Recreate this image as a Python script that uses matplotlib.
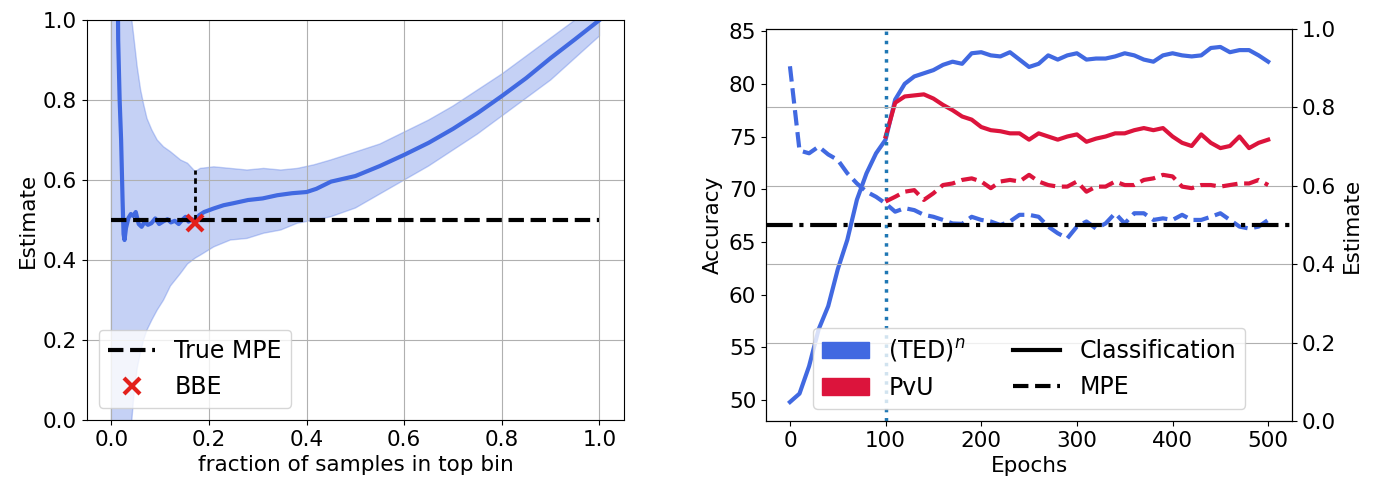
import matplotlib
matplotlib.use("Agg")
import matplotlib.pyplot as plt
import numpy as np
from matplotlib.patches import Patch
from matplotlib.lines import Line2D

# ---- pannello sinistro: stima al variare della frazione nel top bin ----
line_x = [0.010, 0.014, 0.017, 0.020, 0.023, 0.025, 0.027, 0.030, 0.035, 0.040,
          0.045, 0.050, 0.056, 0.062, 0.068, 0.075, 0.082, 0.090, 0.098, 0.107,
          0.115, 0.122, 0.130, 0.138, 0.145, 0.152, 0.158, 0.165, 0.172, 0.180,
          0.190, 0.210, 0.230, 0.250, 0.280, 0.310, 0.340, 0.370, 0.400, 0.420,
          0.450, 0.500, 0.550, 0.600, 0.650, 0.700, 0.750, 0.800, 0.850, 0.900,
          0.950, 1.000]
line_y = [1.600, 0.950, 0.800, 0.700, 0.550, 0.465, 0.450, 0.480, 0.505, 0.515,
          0.510, 0.520, 0.490, 0.483, 0.495, 0.488, 0.492, 0.504, 0.490, 0.497,
          0.502, 0.494, 0.498, 0.490, 0.500, 0.508, 0.496, 0.502, 0.498, 0.512,
          0.520, 0.529, 0.537, 0.542, 0.550, 0.554, 0.562, 0.567, 0.570, 0.578,
          0.596, 0.610, 0.635, 0.663, 0.693, 0.728, 0.767, 0.810, 0.855, 0.905,
          0.952, 1.000]

band_x = [0.000, 0.020, 0.042, 0.046, 0.053, 0.060, 0.066, 0.073, 0.083, 0.094,
          0.107, 0.121, 0.142, 0.156, 0.172, 0.182, 0.210, 0.244, 0.278, 0.312,
          0.347, 0.381, 0.415, 0.449, 0.500, 0.550, 0.600, 0.650, 0.700, 0.750,
          0.800, 0.850, 0.900, 0.950, 1.000]
band_hi = [3.000, 2.000, 1.000, 0.958, 0.883, 0.825, 0.790, 0.754, 0.725, 0.700,
           0.683, 0.671, 0.650, 0.642, 0.621, 0.629, 0.633, 0.629, 0.625, 0.629,
           0.625, 0.629, 0.638, 0.650, 0.670, 0.690, 0.720, 0.750, 0.785, 0.825,
           0.865, 0.910, 0.955, 1.000, 1.045]
band_lo = [-2.000, -1.000, 0.000, 0.060, 0.130, 0.170, 0.200, 0.225, 0.250, 0.275,
           0.300, 0.335, 0.367, 0.390, 0.405, 0.412, 0.433, 0.450, 0.454, 0.467,
           0.475, 0.492, 0.500, 0.508, 0.530, 0.565, 0.600, 0.635, 0.675, 0.715,
           0.760, 0.805, 0.850, 0.905, 0.960]

true_mpe = 0.5
bbe_x = 0.172
bbe_y = 0.493
bbe_top = 0.625

# ---- pannello destro: accuratezza e stima MPE durante il training ----
epochs = [0, 10, 20, 30, 40, 50, 60, 70, 80, 90, 100, 110, 120, 130, 140, 150,
          160, 170, 180, 190, 200, 210, 220, 230, 240, 250, 260, 270, 280, 290,
          300, 310, 320, 330, 340, 350, 360, 370, 380, 390, 400, 410, 420, 430,
          440, 450, 460, 470, 480, 490, 500]
ted_acc = [49.8, 50.6, 53.2, 56.7, 58.9, 62.4, 65.2, 69.0, 71.5, 73.4, 74.7,
           78.5, 80.0, 80.7, 81.0, 81.3, 81.8, 82.1, 81.9, 82.9, 83.0, 82.7,
           82.6, 83.0, 82.3, 81.6, 81.9, 82.7, 82.3, 82.7, 82.9, 82.3, 82.4,
           82.4, 82.6, 82.9, 82.7, 82.3, 82.1, 82.7, 82.9, 82.7, 82.6, 82.7,
           83.4, 83.5, 83.0, 83.2, 83.2, 82.7, 82.1]
ted_mpe = [0.905, 0.69, 0.683, 0.70, 0.68, 0.666, 0.632, 0.606, 0.585, 0.572,
           0.555, 0.534, 0.543, 0.538, 0.526, 0.521, 0.513, 0.504, 0.503, 0.521,
           0.513, 0.509, 0.500, 0.509, 0.526, 0.526, 0.521, 0.496, 0.479, 0.466,
           0.496, 0.509, 0.491, 0.504, 0.530, 0.504, 0.530, 0.530, 0.513, 0.517,
           0.513, 0.526, 0.513, 0.513, 0.521, 0.530, 0.513, 0.496, 0.491, 0.496,
           0.513]

pvu_epochs = epochs[10:]
pvu_acc = [75.0, 78.2, 78.8, 78.9, 79.0, 78.6, 78.0, 77.5, 76.9, 76.6, 75.9,
           75.6, 75.5, 75.3, 75.3, 74.7, 75.3, 75.0, 74.7, 75.0, 75.2, 74.5,
           74.8, 75.0, 75.3, 75.3, 75.6, 75.8, 75.6, 75.8, 75.0, 74.4, 74.1,
           75.2, 74.4, 73.9, 74.1, 75.0, 73.9, 74.4, 74.7]
pvu_mpe = [0.560, 0.572, 0.585, 0.589, 0.564, 0.581, 0.602, 0.606, 0.615, 0.619,
           0.611, 0.594, 0.611, 0.615, 0.611, 0.628, 0.611, 0.602, 0.598, 0.598,
           0.611, 0.585, 0.598, 0.598, 0.611, 0.602, 0.602, 0.615, 0.619, 0.628,
           0.624, 0.598, 0.594, 0.602, 0.602, 0.598, 0.602, 0.606, 0.606, 0.615,
           0.602]

switch_epoch = 100

blu = 'royalblue'
rosso = 'crimson'
fs = 15.5

fig = plt.figure(figsize=(13.8, 4.92), dpi=100)

# pannello sinistro
ax1 = fig.add_axes([0.0630, 0.1463, 0.3891, 0.8130])
ax1.fill_between(band_x, band_lo, band_hi, color=blu, alpha=0.3)
ax1.plot(line_x, line_y, color=blu, lw=3)
ax1.plot([0, 1], [true_mpe, true_mpe], 'k--', lw=3, label='True MPE')
ax1.plot([bbe_x, bbe_x], [true_mpe, bbe_top], color='k', lw=2,
         linestyle=(0, (2, 1.3)))
ax1.plot([bbe_x], [bbe_y], 'x', color='#e3201b', ms=11, mew=3, label='BBE',
         linestyle='none')
ax1.set_xlim(-0.05, 1.05)
ax1.set_ylim(0, 1)
ax1.set_xticks([0, 0.2, 0.4, 0.6, 0.8, 1.0])
ax1.set_yticks([0, 0.2, 0.4, 0.6, 0.8, 1.0])
ax1.grid(True)
ax1.tick_params(labelsize=fs)
ax1.set_xlabel('fraction of samples in top bin', fontsize=fs)
ax1.set_ylabel('Estimate', fontsize=fs)
ax1.legend(loc='lower left', fontsize=17)

# pannello destro
ax = fig.add_axes([0.5551, 0.1443, 0.3812, 0.7967])
ax.plot(epochs, ted_acc, color=blu, lw=3)
ax.plot(pvu_epochs, pvu_acc, color=rosso, lw=3)
ax.set_ylim(48.0, 85.2)
ax.set_xlim(-25, 525)
ax.set_yticks([50, 55, 60, 65, 70, 75, 80, 85])
ax.set_xticks([0, 100, 200, 300, 400, 500])
ax.tick_params(labelsize=fs)
ax.set_xlabel('Epochs', fontsize=fs)
ax.set_ylabel('Accuracy', fontsize=fs)
ax.axvline(switch_epoch, color='#1f77b4', linestyle=':', lw=2.5)

ax2 = ax.twinx()
ax2.plot(epochs, ted_mpe, color=blu, lw=3, linestyle='--')
ax2.plot(pvu_epochs, pvu_mpe, color=rosso, lw=3, linestyle='--')
ax2.axhline(true_mpe, color='k', linestyle='-.', lw=3)
ax2.set_ylim(0, 1)
ax2.set_yticks([0, 0.2, 0.4, 0.6, 0.8, 1.0])
ax2.grid(True)
ax2.tick_params(labelsize=fs)
ax2.set_ylabel('Estimate', fontsize=fs)

handles = [Patch(color=blu, label='(TED)$^n$'),
           Patch(color=rosso, label='PvU'),
           Line2D([], [], color='k', lw=3, label='Classification'),
           Line2D([], [], color='k', lw=3, linestyle='--', label='MPE')]
ax2.legend(handles=handles, loc='lower center', ncol=2, fontsize=17)

fig.savefig('out.png', dpi=100)
